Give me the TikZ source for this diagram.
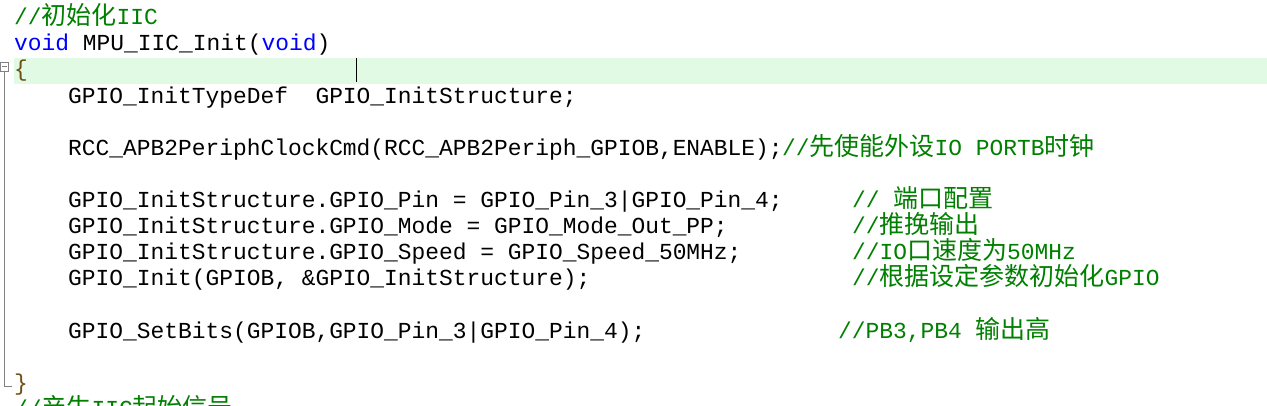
\documentclass[tikz,border=0pt]{standalone}
\usepackage{fontspec}
\setmonofont{Liberation Mono}
\newfontfamily\cjk{Noto Sans CJK SC}
\newcommand{\zh}[1]{{\cjk\fontsize{25}{25}\selectfont #1}}
\definecolor{cmt}{RGB}{0,128,0}
\definecolor{kw}{RGB}{0,0,255}
\definecolor{brc}{RGB}{110,80,20}
\definecolor{hl}{RGB}{224,250,228}
\begin{document}
\begin{tikzpicture}[x=1pt,y=-1pt,
  code/.style={anchor=base west,inner sep=0pt,font=\ttfamily\fontsize{22.9}{26}\selectfont}]
\useasboundingbox (0,0) rectangle (1267,406);
\clip (0,0) rectangle (1267,406);
\fill[white] (0,0) rectangle (1267,406);
\fill[hl] (14,58) rectangle (1267,84);
\draw[black,line width=1pt] (356,58) -- (356,82);
% fold margin
\draw[gray,line width=0.8pt] (0.5,62) rectangle (8.5,71);
\draw[gray,line width=0.8pt] (2,66.5) -- (7,66.5);
\draw[gray,line width=0.8pt] (4.5,71) -- (4.5,386) -- (12,386);
\node[code,text=cmt] (l1) at (14,25) {//\zh{初始化}IIC};
\node[code] (l2) at (14,51) {\textcolor{kw}{void} MPU\_IIC\_Init(\textcolor{kw}{void})};
\node[code,text=brc] (l3) at (14,77) {\{};
\node[code] (l4) at (68,104) {GPIO\_InitTypeDef\ \ GPIO\_InitStructure;};
\node[code] (l5) at (68,156) {RCC\_APB2PeriphClockCmd(RCC\_APB2Periph\_GPIOB,ENABLE);};
\node[code,text=cmt] (c5) at (782,156) {//\zh{先使能外设}IO PORTB\zh{时钟}};
\node[code] (l6) at (68,208) {GPIO\_InitStructure.GPIO\_Pin = GPIO\_Pin\_3|GPIO\_Pin\_4;};
\node[code,text=cmt] (c6) at (852,208) {// \zh{端口配置}};
\node[code] (l7) at (68,234) {GPIO\_InitStructure.GPIO\_Mode = GPIO\_Mode\_Out\_PP;};
\node[code,text=cmt] (c7) at (852,234) {//\zh{推挽输出}};
\node[code] (l8) at (68,260) {GPIO\_InitStructure.GPIO\_Speed = GPIO\_Speed\_50MHz;};
\node[code,text=cmt] (c8) at (852,260) {//IO\zh{口速度为}50MHz};
\node[code] (l9) at (68,286) {GPIO\_Init(GPIOB, \&GPIO\_InitStructure);};
\node[code,text=cmt] (c9) at (852,286) {//\zh{根据设定参数初始化}GPIO};
\node[code] (l10) at (68,338) {GPIO\_SetBits(GPIOB,GPIO\_Pin\_3|GPIO\_Pin\_4);};
\node[code,text=cmt] (c10) at (838,338) {//PB3,PB4 \zh{输出高}};
\node[code,text=brc] (l11) at (14,390) {\}};
\node[code,text=cmt] (l12) at (14,416) {//\zh{产生}IIC\zh{起始信号}};
\end{tikzpicture}
\end{document}
